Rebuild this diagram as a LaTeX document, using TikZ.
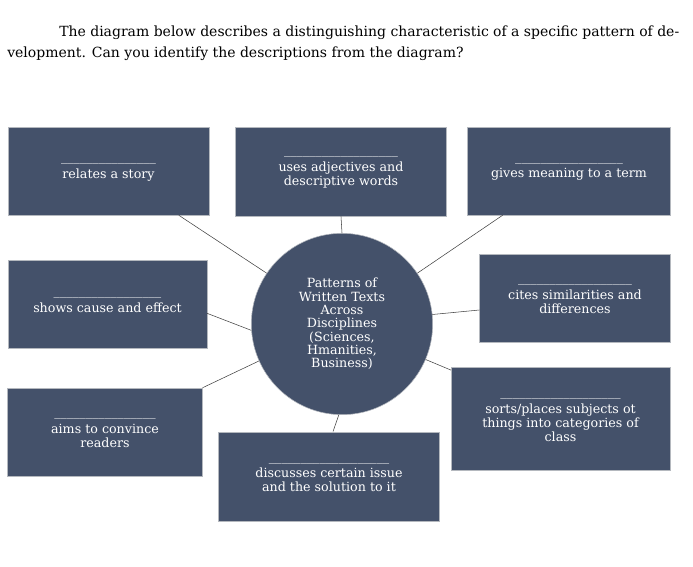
\documentclass[tikz,border=0pt]{standalone}
\usepackage{fontspec}
\setmainfont{DejaVu Serif}
\definecolor{slate}{HTML}{44516A}
\definecolor{rim}{HTML}{B4B8BE}
\tikzset{
  card/.style={draw=rim,fill=slate,text=white,align=center,font=\fontsize{9.5}{10.5}\selectfont,inner sep=0pt},
  link/.style={draw=black!75,thin}
}
\begin{document}
\begin{tikzpicture}[x=0.75pt,y=-0.75pt]
\useasboundingbox (0,0) rectangle (693,567);
\node[anchor=north west,text width=504pt,align=justify,inner sep=0pt,font=\fontsize{10.5}{15.5}\selectfont] (title) at (7,26)
  {\hspace*{39pt}The diagram below describes a distinguishing characteristic of a specific pattern of development. Can you identify the descriptions from the diagram?};
\node[circle,fill=slate,draw=rim,minimum size=136pt,text=white,align=center,font=\fontsize{9.5}{10}\selectfont,inner sep=0pt] (hub) at (342,324)
  {Patterns of\\Written Texts\\Across\\Disciplines\\(Sciences,\\Hmanities,\\Business)};
\node[card,minimum width=151pt,minimum height=66pt] (story) at (108.5,171) {\rule{0pt}{1pt}\_\_\_\_\_\_\_\_\_\_\_\_\_\_\_\\[2pt]relates a story};
\node[card,minimum width=158pt,minimum height=67pt] (adj) at (341,171.5) {\_\_\_\_\_\_\_\_\_\_\_\_\_\_\_\_\_\_\\[2pt]uses adjectives and\\descriptive words};
\node[card,minimum width=152pt,minimum height=66pt] (term) at (569,171) {\_\_\_\_\_\_\_\_\_\_\_\_\_\_\_\_\_\\[2pt]gives meaning to a term};
\node[card,minimum width=149pt,minimum height=66pt] (cause) at (107.5,304) {\_\_\_\_\_\_\_\_\_\_\_\_\_\_\_\_\_\\[2pt]shows cause and effect};
\node[card,minimum width=143pt,minimum height=66pt] (cites) at (575,298) {\_\_\_\_\_\_\_\_\_\_\_\_\_\_\_\_\_\_\\[2pt]cites similarities and\\differences};
\node[card,minimum width=146pt,minimum height=66pt] (aims) at (105,432) {\_\_\_\_\_\_\_\_\_\_\_\_\_\_\_\_\\[2pt]aims to convince\\readers};
\node[card,minimum width=166pt,minimum height=67pt] (issue) at (329,476.5) {\_\_\_\_\_\_\_\_\_\_\_\_\_\_\_\_\_\_\_\\[2pt]discusses certain issue\\and the solution to it};
\node[card,minimum width=164pt,minimum height=77pt] (sorts) at (560.5,419) {\_\_\_\_\_\_\_\_\_\_\_\_\_\_\_\_\_\_\_\\[2pt]sorts/places subjects ot\\things into categories of\\class};
% spokes
\draw[link] ([xshift=-23pt]story.south east) -- (hub.146);
\draw[link] (adj.south) -- (hub.north);
\draw[link] ([xshift=-126pt]term.south east) -- (hub.34);
\draw[link] ([yshift=-7pt]cause.east) -- (hub.184);
\draw[link] ([yshift=-9pt]cites.west) -- (hub.6);
\draw[link] (aims.north east) -- (hub.204);
\draw[link] ([xshift=3pt]issue.north) -- (hub.268);
\draw[link] ([yshift=-2pt]sorts.north west) -- (hub.337);
\end{tikzpicture}
\end{document}
